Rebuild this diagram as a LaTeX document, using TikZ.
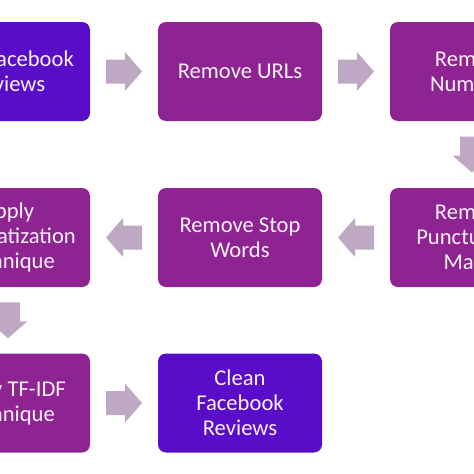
\documentclass[tikz,border=0pt]{standalone}
\usepackage{fontspec}
\setmainfont{Carlito}
\usetikzlibrary{calc}
\definecolor{boxpurple}{HTML}{8E2492}
\definecolor{boxblue}{HTML}{5A0DC8}
\definecolor{arrowgray}{HTML}{BFA8C3}
\definecolor{boxtext}{HTML}{FBEFFB}
\begin{document}
\begin{tikzpicture}[x=1pt,y=-1pt,
  stepbox/.style={rounded corners=8pt, minimum width=164pt, minimum height=99pt,
    inner sep=0pt, text=boxtext, align=center, font=\fontsize{22.6}{25}\selectfont},
  purplebox/.style={stepbox, fill=boxpurple},
  bluebox/.style={stepbox, fill=boxblue},
  blockarrow/.pic={\fill[arrowgray] (-18,-12) -- (1,-12) -- (1,-19.5) -- (18,0)
    -- (1,19.5) -- (1,12) -- (-18,12) -- cycle;}]
\useasboundingbox (0,0) rectangle (474,474);
\clip (0,0) rectangle (474,474);
\node[bluebox]   (raw)   at (8,71.5)    {Raw Facebook\\Reviews};
\node[purplebox] (urls)  at (240,71.5)  {Remove URLs};
\node[purplebox] (nums)  at (472,71.5)  {Remove\\Numbers};
\node[purplebox] (punct) at (472,237.5) {Remove\\Punctuation\\Marks};
\node[purplebox] (stop)  at (240,237.5) {Remove Stop\\Words};
\node[purplebox] (lemma) at (8,237.5)   {Apply\\Lemmatization\\Technique};
\node[purplebox] (tfidf) at (8,403)     {Apply TF-IDF\\Technique};
\node[bluebox]   (clean) at (240,403)   {Clean\\Facebook\\Reviews};
\path ($(raw.east)!0.5!(urls.west)$) pic {blockarrow};
\path ($(urls.east)!0.5!(nums.west)$) pic {blockarrow};
\path ($(nums.south)!0.5!(punct.north)$) pic[rotate=-90] {blockarrow};
\path ($(punct.west)!0.5!(stop.east)$) pic[rotate=180] {blockarrow};
\path ($(stop.west)!0.5!(lemma.east)$) pic[rotate=180] {blockarrow};
\path ($(lemma.south)!0.5!(tfidf.north)$) pic[rotate=-90] {blockarrow};
\path ($(tfidf.east)!0.5!(clean.west)$) pic {blockarrow};
\end{tikzpicture}
\end{document}
